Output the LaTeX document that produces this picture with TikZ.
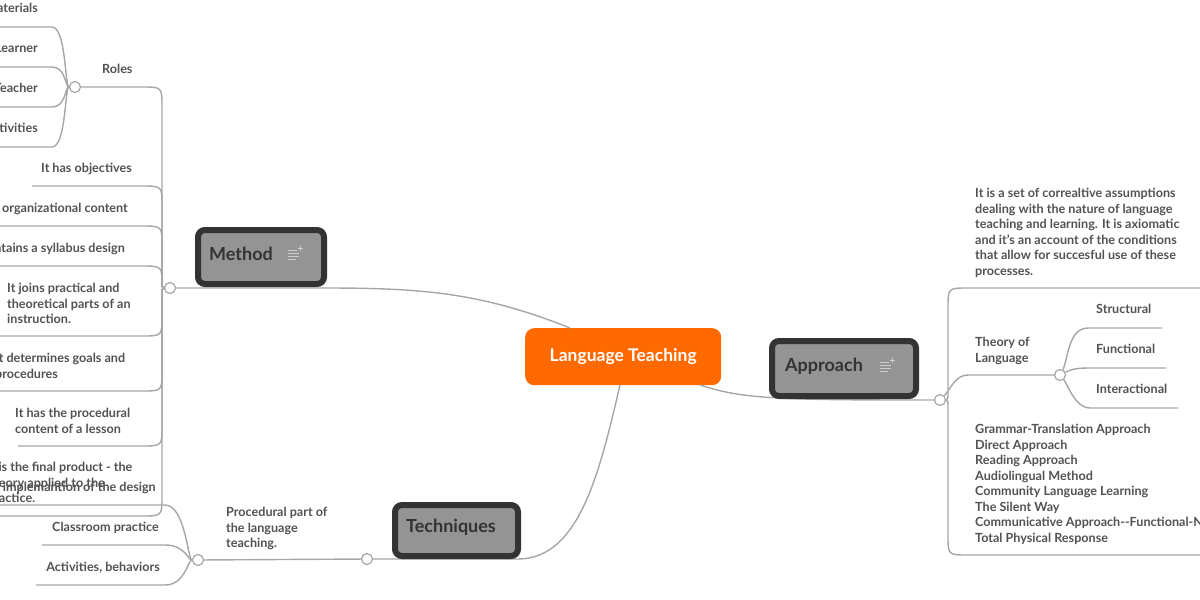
\documentclass[tikz,border=0pt]{standalone}
\usepackage{fontspec}
\setmainfont{Lato}
\begin{document}
\begin{tikzpicture}[x=1pt,y=-1pt,
  ln/.style={draw=black!35,line width=1.4pt},
  jn/.style={circle,draw=black!35,line width=1.2pt,fill=white,minimum size=11pt,inner sep=0pt},
  tx/.style={text=black!68,font=\bfseries\fontsize{12.6}{15.5}\selectfont,inner sep=0pt},
  tl/.style={tx,anchor=north west,align=left},
  tr/.style={tx,anchor=north east,align=right},
  big/.style={draw=black!80,line width=6pt,fill=black!42,rounded corners=7pt,inner sep=0pt,anchor=north west},
  bigt/.style={text=black!80,font=\bfseries\fontsize{18}{20}\selectfont,anchor=west,inner sep=0pt}]
\useasboundingbox (0,0) rectangle (1200,600);
% central
\node[fill={rgb,255:red,255;green,106;blue,0},rounded corners=9pt,minimum width=196pt,minimum height=57pt,anchor=north west] (lt) at (525,328) {};
\node[text=white,font=\bfseries\fontsize{17.5}{20}\selectfont] at (lt.center) {Language Teaching};
% ---- Method
\draw[ln] (570,328) .. controls (480,292) and (420,288) .. (324,288) -- (170,288);
\node[big,minimum width=126pt,minimum height=54pt] (me) at (195,227) {};
\node[bigt] at (209,254) {Method};
\node[jn] (jm) at (170,288) {};
% method children
\foreach \y/\x in {186/32,226/0,266/0,336/0,391/0,446/18,516/0}{
  \pgfmathsetmacro{\s}{\y<288 ? -1 : 1}
  \draw[ln] (jm) .. controls (162,288) .. (162,288+\s*12) -- (162,\y-\s*20) .. controls (162,\y) .. (142,\y) -- (\x,\y);
}
% roles
\draw[ln] (jm) .. controls (162,288) .. (162,276) -- (162,107) .. controls (162,87) .. (142,87) -- (75,87);
\node[jn] (jr) at (75,87) {};
\node[tl] at (102,64) {Roles};
\foreach \y in {27,67,107,147}{
  \draw[ln] (jr) .. controls (65,87) and (66,\y) .. (52,\y) -- (0,\y);
}
\node[tr] at (38,3) {Materials};
\node[tr] at (38,43) {Learner};
\node[tr] at (38,83) {Teacher};
\node[tr] at (38,123) {Activities};
\node[tr] at (132,163) {It has objectives};
\node[tr] at (128,203) {It has organizational content};
\node[tr] at (125,243) {It contains a syllabus design};
\node[tl] at (7,283) {It joins practical and\\theoretical parts of an\\instruction.};
\node[tl] at (-5,353) {It determines goals and\\procedures};
\node[tl] at (15,408) {It has the procedural\\content of a lesson};
\node[tl] at (-13,462) {It is the final product - the\\theory applied to the\\practice.};
% ---- Techniques
\draw[ln] (620,385) .. controls (600,470) and (580,559) .. (518,559) -- (367,559);
\node[big,minimum width=123pt,minimum height=51pt] (te) at (392,502) {};
\node[bigt] at (406,527) {Techniques};
\node[jn] (jt) at (367,559) {};
\draw[ln] (jt) -- (198,560);
\node[jn] (jp) at (198,560) {};
\node[tl] at (226,507) {Procedural part of\\the language\\teaching.};
\foreach \y/\x in {505/0,545/42,585/36}{
  \draw[ln] (jp) .. controls (188,560) and (185,\y) .. (165,\y) -- (\x,\y);
}
\node[tr] at (156,482) {The implemantion of the design};
\node[tr] at (159,522) {Classroom practice};
\node[tr] at (160,562) {Activities, behaviors};
% ---- Approach
\draw[ln] (700,385) .. controls (740,398) and (770,400) .. (916,400) -- (940,400);
\node[big,minimum width=144pt,minimum height=55pt] (ap) at (769,338) {};
\node[bigt] at (785,366) {Approach};
\node[jn] (ja) at (940,400) {};
% icons
\foreach \cx/\cy in {288/254,880/366}{
  \draw[black!20,line width=1pt] (\cx,\cy-4) -- (\cx+9,\cy-4) (\cx,\cy-1) -- (\cx+11,\cy-1) (\cx,\cy+2) -- (\cx+11,\cy+2) (\cx,\cy+5) -- (\cx+8,\cy+5)
    (\cx+12,\cy-8) -- (\cx+12,\cy-3) (\cx+9.5,\cy-5.5) -- (\cx+14.5,\cy-5.5);
}
\draw[ln] (ja) .. controls (948,400) .. (948,388) -- (948,308) .. controls (948,288) .. (968,288) -- (1200,288);
\draw[ln] (ja) .. controls (950,390) and (955,375) .. (968,375) -- (1060,375);
\draw[ln] (ja) .. controls (948,400) .. (948,412) -- (948,535) .. controls (948,555) .. (968,555) -- (1200,555);
\node[tl] at (975,188) {It is a set of correaltive assumptions\\dealing with the nature of language\\teaching and learning. It is axiomatic\\and it's an account of the conditions\\that allow for succesful use of these\\processes.};
\node[tl] at (975,337) {Theory of\\Language};
\node[jn] (jl) at (1060,375) {};
\draw[ln] (jl) .. controls (1068,360) and (1068,328) .. (1088,328) -- (1162,328);
\draw[ln] (jl) .. controls (1070,370) and (1075,368) .. (1088,368) -- (1166,368);
\draw[ln] (jl) .. controls (1068,385) and (1075,408) .. (1090,408) -- (1178,408);
\node[tl] at (1096,304) {Structural};
\node[tl] at (1096,344) {Functional};
\node[tl] at (1096,384) {Interactional};
\node[tl] at (975,424) {Grammar-Translation Approach\\Direct Approach\\Reading Approach\\Audiolingual Method\\Community Language Learning\\The Silent Way\\Communicative Approach{-}{-}Functional-Notional\\Total Physical Response};
\end{tikzpicture}
\end{document}
